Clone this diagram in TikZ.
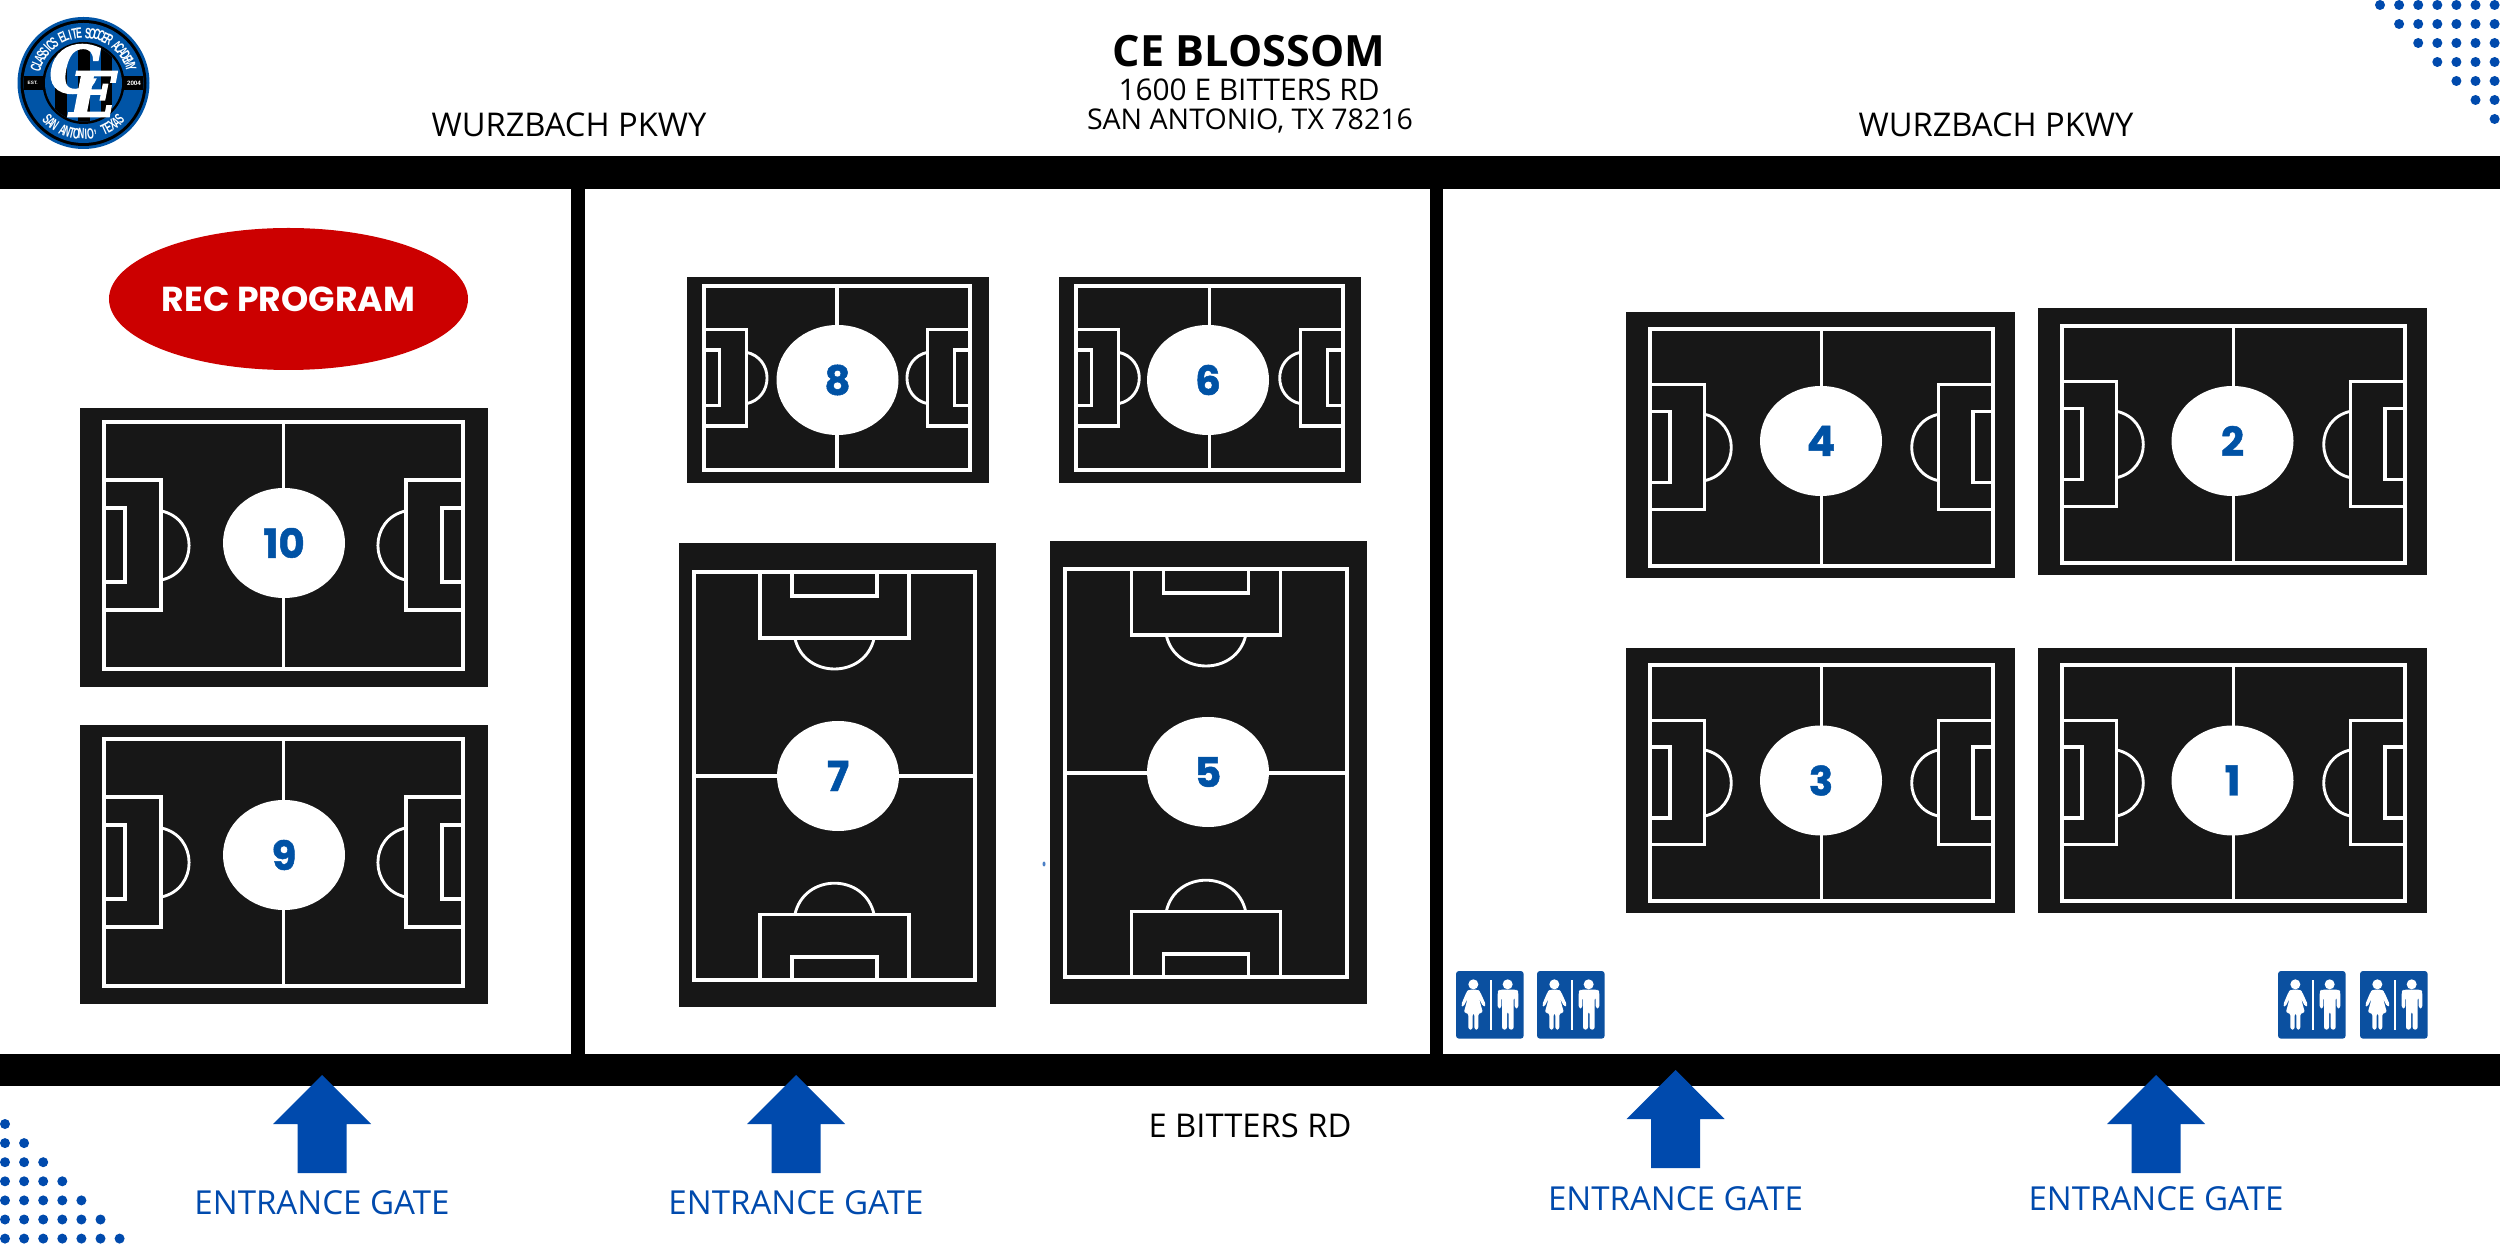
\documentclass[tikz,border=0pt]{standalone}
\usepackage{fontspec}
\usepackage{graphicx}
\usetikzlibrary{shapes.geometric}
\setmainfont{Open Sans}
\newfontfamily\pop{Poppins}
\newfontfamily\popn{Poppins}[BoldFeatures={FakeBold=1.2}]
\newfontfamily\libb{Liberation Sans}
\newfontfamily\slab{DejaVu Serif}[BoldItalicFeatures={FakeBold=2.5}]
\newdimen\upx \upx=0.4pt
\definecolor{ceblue}{HTML}{004AAD}
\definecolor{numblue}{HTML}{0052A5}
\definecolor{logoblue}{HTML}{0054A6}
\definecolor{wcblue}{HTML}{0B50A0}
\definecolor{turf}{HTML}{171717}
\definecolor{recred}{HTML}{CC0000}
\newcommand\fitw[2]{\resizebox{#1\upx}{!}{#2}}
\newcommand\fith[2]{\resizebox{!}{#1\upx}{#2}}
\tikzset{
  x=0.4pt, y=-0.4pt,
  road/.style={fill=black},
  turfbox/.style={fill=turf},
  chalk/.style={draw=white, line width=1.35pt},
  chalkarc/.style={draw=white, line width=1.15pt},
  numdisc/.style={ellipse, fill=white, inner sep=0pt, minimum width=48.8pt, minimum height=44pt},
  dot/.style={fill=ceblue},
  gate/.style={fill=ceblue},
  gatetxt/.style={text=ceblue, inner sep=0pt},
  streettxt/.style={text=black, inner sep=0pt},
  wc/.style={fill=wcblue, rounded corners=1.2pt},
  wcfig/.style={fill=white},
  logotxt/.style={text=white, inner sep=0pt}
}
% \hpitch{num}{ox0}{oy0}{ox1}{oy1}{ix0}{iy0}{ix1}{iy1}, disc centre in \pcx,\pcy
\newcommand\hpitch[9]{%
  \fill[turfbox] (#2,#3) rectangle (#4,#5);
  \pgfmathsetmacro\pW{#8-#6}\pgfmathsetmacro\pH{#9-#7}
  \begin{scope}[shift={(#6,#7)}, xscale=\pW, yscale=\pH]
    \draw[chalk] (0,0) rectangle (1,1);
    \draw[chalk] (0.5,0) -- (0.5,1);
    \draw[chalk] (0,0.235) -| (0.159,0.761) -- (0,0.761);
    \draw[chalk] (0,0.348) -| (0.058,0.648) -- (0,0.648);
    \draw[chalk] (1,0.235) -| (0.841,0.761) -- (1,0.761);
    \draw[chalk] (1,0.348) -| (0.942,0.648) -- (1,0.648);
    \draw[chalkarc] (0.159,0.36) .. controls (0.263,0.392) and (0.263,0.608) .. (0.159,0.64);
    \draw[chalkarc] (0.841,0.36) .. controls (0.737,0.392) and (0.737,0.608) .. (0.841,0.64);
  \end{scope}
  \node[numdisc] (pitch#1) at (\pcx,\pcy) {\fith{30}{\popn\bfseries\color{numblue}#1}};
}
\newcommand\vpitch[9]{%
  \fill[turfbox] (#2,#3) rectangle (#4,#5);
  \pgfmathsetmacro\pW{#8-#6}\pgfmathsetmacro\pH{#9-#7}
  \begin{scope}[shift={(#6,#7)}, xscale=\pW, yscale=\pH]
    \draw[chalk] (0,0) rectangle (1,1);
    \draw[chalk] (0,0.5) -- (1,0.5);
    \draw[chalk] (0.235,0) |- (0.765,0.162) -- (0.765,0);
    \draw[chalk] (0.349,0) |- (0.651,0.059) -- (0.651,0);
    \draw[chalk] (0.235,1) |- (0.765,0.840) -- (0.765,1);
    \draw[chalk] (0.349,1) |- (0.651,0.944) -- (0.651,1);
    \draw[chalkarc] (0.359,0.162) .. controls (0.391,0.263) and (0.609,0.263) .. (0.641,0.162);
    \draw[chalkarc] (0.359,0.840) .. controls (0.391,0.737) and (0.609,0.737) .. (0.641,0.840);
  \end{scope}
  \node[numdisc] (pitch#1) at (\pcx,\pcy) {\fith{30}{\popn\bfseries\color{numblue}#1}};
}
\newcommand\gatearrow[3]{% name, x, tip y
  \fill[gate] (#2,#3) -- ++(49,49) -- ++(-24.5,0) -- ++(0,49) -- ++(-49,0) -- ++(0,-49) -- ++(-24.5,0) -- cycle;
}
\newcommand\wcicon[2]{%
  \begin{scope}[shift={(#1,#2)}, scale=0.3333]
    \fill[wc] (0,0) rectangle (203,203);
    % woman
    \fill[wcfig] (52,40) circle (15);
    \fill[wcfig, rounded corners=1pt] (38,56) -- (66,56) -- (72,62) -- (90,102) -- (82,108) -- (69,82) -- (81,126) -- (67,126) -- (67,176) -- (55,176) -- (55,126) -- (50,126) -- (50,176) -- (37,176) -- (37,126) -- (23,126) -- (35,82) -- (22,108) -- (15,102) -- (32,62) -- cycle;
    % divider
    \fill[wcfig] (103,26) rectangle (109,176);
    % man
    \fill[wcfig] (155,40) circle (15);
    \fill[wcfig, rounded corners=1pt] (130,56) -- (182,56) -- (187,62) -- (187,112) -- (176,112) -- (176,78) -- (173,78) -- (173,176) -- (158,176) -- (158,122) -- (153,122) -- (153,176) -- (138,176) -- (138,78) -- (136,78) -- (136,112) -- (125,112) -- (125,62) -- cycle;
  \end{scope}
}
\begin{document}
\begin{tikzpicture}
\useasboundingbox (0,0) rectangle (2500,1250);
\fill[white] (0,0) rectangle (2500,1250);

% roads and walls
\fill[road] (0,156) rectangle (2500,189);
\fill[road] (0,1054) rectangle (2500,1086);
\fill[road] (571,189) rectangle (585,1054);
\fill[road] (1430,189) rectangle (1443,1054);

% corner dots
\foreach \rw in {1,...,7}{
  \foreach \cl in {\rw,...,7}{
    \fill[dot] ({2380+19.1*(\cl-1)},{5+19*(\rw-1)}) circle (5);
  }
  \foreach \cl in {1,...,\rw}{
    \fill[dot] ({5+19.1*(\cl-1)},{1124+19.1*(\rw-1)}) circle (5);
  }
}

% logo
\fill[logoblue] (83.5,83) circle (66);
\fill[black] (83.5,83) circle (63);
\fill[logoblue] (83.5,83) circle (60);
\fill[black] (24,76) rectangle (44,90);
\fill[black] (123,76) rectangle (143,90);
\fill[black] (83.5,83) circle (41);
\begin{scope}
  \clip (83.5,83) circle (38.5);
  \fill[logoblue] (40,40) rectangle (130,130);
  \fill[black] (55,40) rectangle (67,130);
  \fill[black] (78,40) rectangle (90,130);
  \fill[black] (101,40) rectangle (112,130);
\end{scope}
\node[inner sep=0pt] (logoC) at (75,69) {\fith{48}{\slab\bfseries\itshape\color{white}C}};
\node[inner sep=0pt] (logoE) at (93,94) {\fith{45}{\slab\bfseries\itshape\color{white}E}};
\foreach \ch [count=\i, evaluate=\i as \a using 162-(\i-1)*5.14] in {C,L,A,S,S,I,C,S,{},E,L,I,T,E,{},S,O,C,C,E,R,{},A,C,A,D,E,M,Y}{
  \node[logotxt, rotate=\a-90] (top\i) at ({83.5+50*cos(\a)},{83-50*sin(\a)}) {\scalebox{0.58}[1]{\libb\fontsize{6pt}{6.5pt}\selectfont\bfseries\ch}};
}
\foreach \ch [count=\i, evaluate=\i as \a using 225+(\i-1)*5.3] in {S,A,N,{},A,N,T,O,N,I,O,{,},{},T,E,X,A,S}{
  \node[logotxt, rotate=\a+90] (bot\i) at ({83.5+51*cos(\a)},{83-51*sin(\a)}) {\scalebox{0.58}[1]{\libb\fontsize{6pt}{6.5pt}\selectfont\bfseries\ch}};
}
\node[logotxt] (est) at (32.7,83) {\fitw{10}{\libb\bfseries EST.}};
\node[logotxt] (yr) at (134,83) {\fitw{14}{\libb\bfseries 2004}};

% header text
\node[streettxt] (title) at (1249,51) {\fitw{272}{\bfseries CE BLOSSOM}};
\node[streettxt] (addr1) at (1249,90) {\fitw{261}{1600 E BITTERS RD}};
\node[streettxt] (addr2) at (1250,121) {\fitw{326}{SAN ANTONIO, TX 78216}};
\node[streettxt] (wurzA) at (569,125) {\fitw{275}{WURZBACH PKWY}};
\node[streettxt] (wurzB) at (1996,125) {\fitw{275}{WURZBACH PKWY}};
\node[streettxt] (bitters) at (1250,1126) {\fitw{203}{E BITTERS RD}};

% rec program
\node[ellipse, fill=recred, inner sep=0pt, minimum width=143.6pt, minimum height=56.8pt] (rec) at (288.5,299) {\fitw{253}{\pop\bfseries\color{white}REC PROGRAM}};

% pitches
\def\pcx{284}\def\pcy{543}\hpitch{10}{80}{408}{488}{687}{104}{422}{463}{669}
\def\pcx{284}\def\pcy{855}\hpitch{9}{80}{725}{488}{1004}{104}{739}{463}{986}
\def\pcx{837.5}\def\pcy{380}\hpitch{8}{687}{277}{989}{483}{704}{286}{970}{470}
\def\pcx{1208}\def\pcy{380}\hpitch{6}{1059}{277}{1361}{483}{1076}{286}{1343}{470}
\def\pcx{838}\def\pcy{776}\vpitch{7}{679}{543}{996}{1007}{694}{572}{975}{980}
\def\pcx{1208}\def\pcy{772}\vpitch{5}{1050}{541}{1367}{1004}{1065}{569}{1347}{977}
\def\pcx{1821}\def\pcy{441}\hpitch{4}{1626}{312}{2015}{578}{1650}{329}{1993}{566}
\def\pcx{2232.5}\def\pcy{441}\hpitch{2}{2038}{308}{2427}{575}{2062}{326}{2405}{563}
\def\pcx{1821}\def\pcy{780.5}\hpitch{3}{1626}{648}{2015}{913}{1650}{665}{1993}{901}
\def\pcx{2232.5}\def\pcy{780.5}\hpitch{1}{2038}{648}{2427}{913}{2062}{665}{2405}{901}

% stray mark
\fill[ceblue!70!white] (1044,864) ellipse (1.5 and 2.5);

% restrooms
\wcicon{1456}{971}
\wcicon{1537}{971}
\wcicon{2278}{971}
\wcicon{2360}{971}

% gates
\gatearrow{g1}{322}{1075}
\gatearrow{g2}{796}{1075}
\gatearrow{g3}{1675.5}{1070}
\gatearrow{g4}{2156}{1075}
\node[gatetxt] (gt1) at (322,1203) {\fitw{255}{ENTRANCE GATE}};
\node[gatetxt] (gt2) at (796,1203) {\fitw{255}{ENTRANCE GATE}};
\node[gatetxt] (gt3) at (1675.5,1199) {\fitw{255}{ENTRANCE GATE}};
\node[gatetxt] (gt4) at (2156,1199) {\fitw{255}{ENTRANCE GATE}};
\end{tikzpicture}
\end{document}
